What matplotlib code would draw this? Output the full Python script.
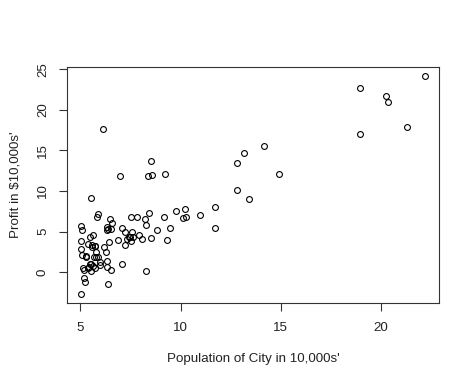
import matplotlib
matplotlib.use("Agg")
import matplotlib.pyplot as plt
import numpy as np

# population (10,000s) and profit ($10,000s)
population = [
    6.1101, 5.5277, 8.5186, 7.0032, 5.8598, 8.3829, 7.4764, 8.5781, 6.4862, 5.0546,
    5.7107, 14.164, 5.734, 8.4084, 5.6407, 5.3794, 6.3654, 5.1301, 6.4296, 7.0708,
    6.1891, 20.27, 5.4901, 6.3261, 5.5649, 18.945, 12.828, 10.957, 13.176, 22.203,
    5.2524, 6.5894, 9.2482, 5.8918, 8.2111, 7.9334, 8.0959, 5.6063, 12.836, 6.3534,
    5.4069, 6.8825, 11.708, 5.7737, 7.8247, 7.0931, 5.0702, 5.8014, 11.7, 5.5416,
    7.5402, 5.3077, 7.4239, 7.6031, 6.3328, 6.3589, 6.2742, 5.6397, 9.3102, 9.4536,
    8.8254, 5.1793, 21.279, 14.908, 18.959, 7.2182, 8.2951, 10.236, 5.4994, 20.341,
    10.136, 7.3345, 6.0062, 7.2259, 5.0269, 6.5479, 7.5386, 5.0365, 10.274, 5.1077,
    5.7292, 5.1884, 6.3557, 9.7687, 6.5159, 8.5172, 9.1802, 6.002, 5.5204, 5.0594,
    5.7077, 7.6366, 5.8707, 5.3054, 8.2934, 13.394, 5.4369,
]
profit = [
    17.592, 9.1302, 13.662, 11.854, 6.8233, 11.886, 4.3483, 12.0, 6.5987, 3.8166,
    3.2522, 15.505, 3.1551, 7.2258, 0.71618, 3.5129, 5.3048, 0.56077, 3.6518, 5.3893,
    3.1386, 21.767, 4.263, 5.1875, 3.0825, 22.638, 13.501, 7.0467, 14.692, 24.147,
    -1.22, 5.9966, 12.134, 1.8495, 6.5426, 4.5623, 4.1164, 3.3928, 10.117, 5.4974,
    0.55657, 3.9115, 5.3854, 2.4406, 6.7318, 1.0463, 5.1337, 1.844, 8.0043, 1.0179,
    6.7504, 1.8396, 4.2885, 4.9981, 1.4233, -1.4211, 2.4756, 4.6042, 3.9624, 5.4141,
    5.1694, -0.74279, 17.929, 12.054, 17.054, 4.8852, 5.7442, 7.7754, 1.0173, 20.992,
    6.6799, 4.0259, 1.2784, 3.3411, -2.6807, 0.29678, 3.8845, 5.7014, 6.7526, 2.0576,
    0.47953, 0.20421, 0.67861, 7.5435, 5.3436, 4.2415, 6.7981, 0.92695, 0.152, 2.8214,
    1.8451, 4.2959, 7.2029, 1.9869, 0.14454, 9.0551, 0.61705,
]
x_ticks = [5, 10, 15, 20]
y_ticks = [0, 5, 10, 15, 20, 25]

plt.rcParams['font.family'] = ['Liberation Sans', 'DejaVu Sans']
txt_col = '#222222'

fig = plt.figure(figsize=(4.74, 3.87), dpi=100)
ax = fig.add_axes([0.1414, 0.2183, 0.926 - 0.1414, 0.8256 - 0.2183])

ax.plot(population, profit, 'o', mfc='none', mec='black', ms=4.2, mew=0.8)

# R style 4% padding
xr = max(population) - min(population)
yr = max(profit) - min(profit)
ax.set_xlim(min(population) - 0.04 * xr, max(population) + 0.04 * xr)
ax.set_ylim(min(profit) - 0.04 * yr, max(profit) + 0.04 * yr)

ax.set_xticks(x_ticks)
ax.set_yticks(y_ticks)
ax.set_yticklabels([str(t) for t in y_ticks], rotation=90, va='center')
ax.tick_params(direction='out', length=6, width=0.8, color='#333333',
               labelsize=9.6, labelcolor=txt_col)
ax.tick_params(axis='x', pad=8)
ax.tick_params(axis='y', pad=7)
for s in ax.spines.values():
    s.set_linewidth(0.8)
    s.set_color('#333333')

ax.set_xlabel("Population of City in 10,000s'", fontsize=9.6, color=txt_col, labelpad=14)
ax.set_ylabel("Profit in $10,000s'", fontsize=9.6, color=txt_col, labelpad=11)

fig.savefig('out.png', dpi=100)
